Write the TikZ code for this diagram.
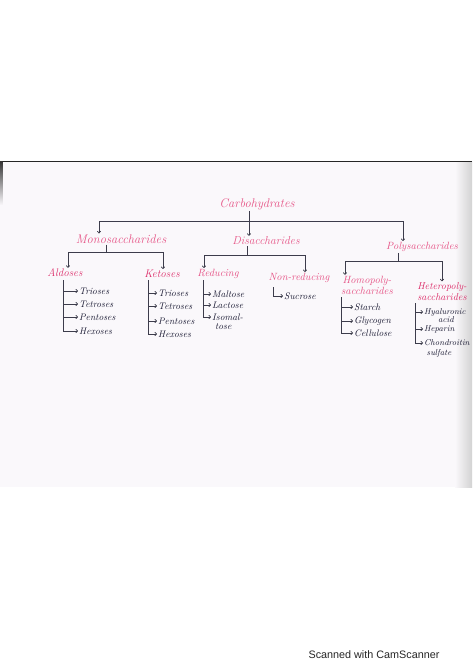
\documentclass[tikz,border=0pt]{standalone}
\usepackage{fontspec}
\newfontfamily\scanfont{Liberation Sans}
\usetikzlibrary{arrows.meta}
\definecolor{pinkhead}{RGB}{230,85,135}
\definecolor{pinkdeep}{RGB}{220,45,105}
\definecolor{inkc}{RGB}{25,25,50}
\definecolor{linec}{RGB}{60,60,75}
\definecolor{paper}{RGB}{250,248,251}
\begin{document}
\begin{tikzpicture}[x=1pt,y=-1pt,
  head/.style={text=pinkhead, font=\itshape\fontsize{12.5}{13}\selectfont, inner sep=1pt},
  sub/.style={text=pinkhead, font=\itshape\fontsize{10.5}{11.5}\selectfont, inner sep=1pt, align=center},
  subdeep/.style={sub, text=pinkdeep, font=\itshape\fontsize{11}{12}\selectfont},
  item/.style={text=inkc, font=\itshape\fontsize{9.5}{10}\selectfont, inner sep=1pt, anchor=west},
  smallitem/.style={item, font=\itshape\fontsize{8.5}{9}\selectfont},
  link/.style={draw=linec, line width=0.7pt},
  arr/.style={link, -{To[length=2.5pt,width=4pt]}},
]
\useasboundingbox (0,0) rectangle (474,670);
\fill[white] (0,0) rectangle (474,670);
\fill[paper] (0,161) rectangle (472,487);
\shade[left color=paper, right color=gray!35] (455,161) rectangle (472,487);
\draw[black!85, line width=1.5pt] (0,161.5) -- (472,161.5);
\shade[top color=black!80, bottom color=paper] (0,161) rectangle (2.5,205);

% level 0-1
\node[head] (carb) at (257,204) {Carbohydrates};
\node[head] (mono) at (121,239) {Monosaccharides};
\node[head, font=\itshape\fontsize{11.5}{12}\selectfont] (di) at (266,241) {Disaccharides};
\node[head, font=\itshape\fontsize{10.5}{11}\selectfont] (poly) at (422,247) {Polysaccharides};

\coordinate (cj) at (249,221);
\coordinate (cl) at (99,221);
\coordinate (cr) at (403,221);
\draw[link] (cl) -- (cr);
\draw[arr] (carb.south -| cj) -- (cj |- di.north);
\draw[arr] (cl) -- (cl |- mono.north);
\draw[arr] (cr) -- (cr |- poly.north);

% level 2
\node[subdeep] (ald) at (65,273) {Aldoses};
\node[subdeep] (ket) at (162,274) {Ketoses};
\node[sub] (red) at (218,274) {Reducing};
\node[sub] (nonred) at (299,278) {Non-reducing};
\node[sub] (homo) at (367,285.5) {Homopoly-\\saccharides};
\node[subdeep, font=\itshape\fontsize{10}{11}\selectfont] (hetero) at (442,291.5) {Heteropoly-\\saccharides};

\coordinate (mj) at (106,252);
\coordinate (ml) at (68,252);
\coordinate (mr) at (163,252);
\draw[link] (mono.south -| mj) -- (mj);
\draw[link] (ml) -- (mr);
\draw[arr] (ml) -- (ml |- ald.north);
\draw[arr] (mr) -- (mr |- ket.north);

\coordinate (dj) at (247,255);
\coordinate (dl) at (204,255);
\coordinate (dr) at (305,255);
\draw[link] (di.south -| dj) -- (dj);
\draw[link] (dl) -- (dr);
\draw[arr] (dl) -- (dl |- red.north);
\draw[arr] (dr) -- (dr |- nonred.north);

\coordinate (pj) at (398,261);
\coordinate (pl) at (345,261);
\coordinate (pr) at (442,261);
\draw[link] (poly.south -| pj) -- (pj);
\draw[link] (pl) -- (pr);
\draw[arr] (pl) -- (pl |- homo.north);
\draw[arr] (pr) -- (pr |- hetero.north);

% Aldoses items
\node[item] (a1) at (78,291) {Trioses};
\node[item] (a2) at (78,304) {Tetroses};
\node[item] (a3) at (78,317) {Pentoses};
\node[item] (a4) at (78,331) {Hexoses};
\coordinate (av) at (63,280);
\foreach \n in {a1,a2,a3,a4} \draw[arr] (av) |- (\n.west);

% Ketoses items
\node[item] (k1) at (157,293) {Trioses};
\node[item] (k2) at (157,306) {Tetroses};
\node[item] (k3) at (157,321) {Pentoses};
\node[item] (k4) at (157,334) {Hexoses};
\coordinate (kv) at (148,280);
\foreach \n in {k1,k2,k3,k4} \draw[arr] (kv) |- (\n.west);

% Reducing items
\node[item] (r1) at (211,294) {Maltose};
\node[item] (r2) at (211,305) {Lactose};
\node[item] (r3) at (211,317) {Isomal-};
\node[item] (r3b) at (214,327) {tose};
\coordinate (rv) at (203,280);
\foreach \n in {r1,r2,r3} \draw[arr] (rv) |- (\n.west);

% Non-reducing
\node[item] (n1) at (283,296) {Sucrose};
\coordinate (nv) at (273,287);
\draw[arr] (nv) |- (n1.west);

% Homopolysaccharides
\node[item] (h1) at (353,307) {Starch};
\node[item] (h2) at (353,321) {Glycogen};
\node[item] (h3) at (353,333) {Cellulose};
\coordinate (hv) at (341,297);
\foreach \n in {h1,h2,h3} \draw[arr] (hv) |- (\n.west);

% Heteropolysaccharides
\node[smallitem] (e1) at (423,312) {Hyaluronic};
\node[smallitem, anchor=center] (e1b) at (446,320) {acid};
\node[smallitem] (e2) at (423,329) {Heparin};
\node[smallitem] (e3) at (423,343) {Chondroitin};
\node[smallitem, anchor=center] (e3b) at (439,353) {sulfate};
\coordinate (ev) at (415,303);
\foreach \n in {e1,e2,e3} \draw[arr] (ev) |- (\n.west);

\node[font=\scanfont\fontsize{10.8}{12}\selectfont, text=black!85] (scan) at (374,655) {Scanned with CamScanner};
\end{tikzpicture}
\end{document}
